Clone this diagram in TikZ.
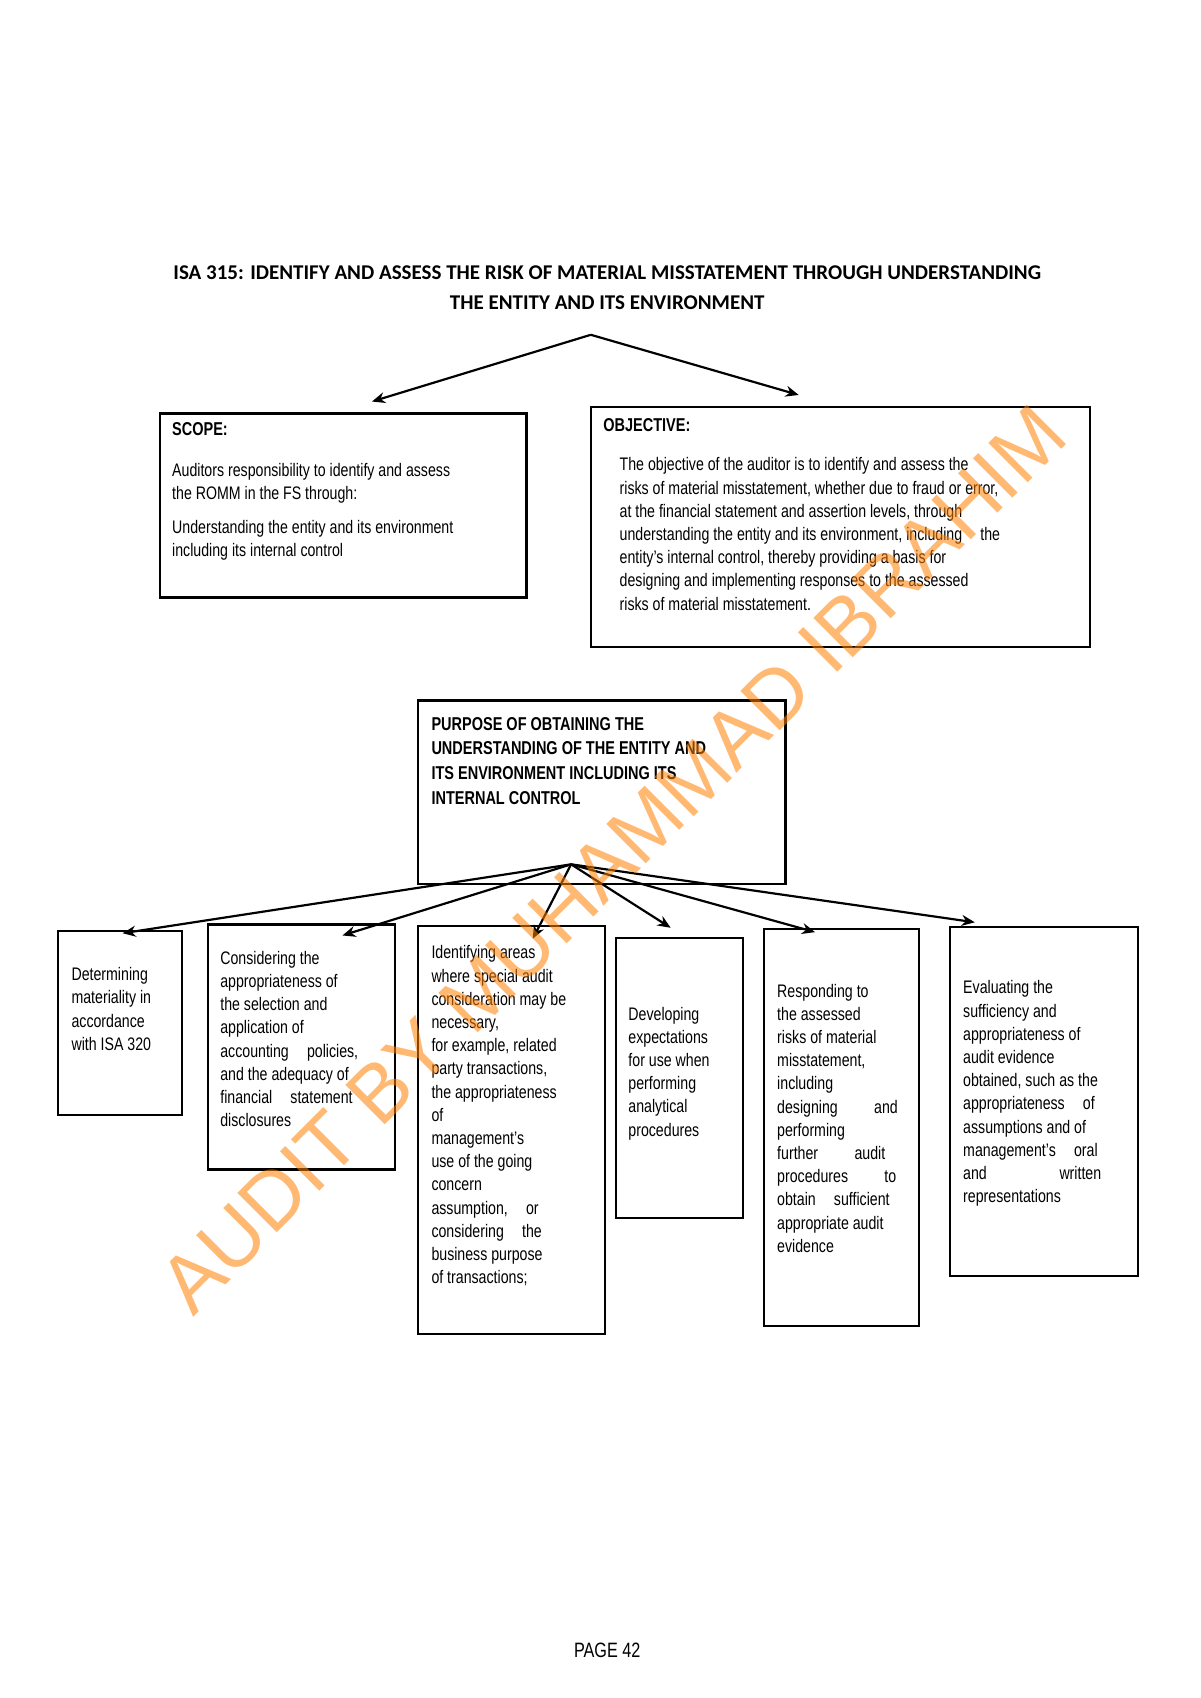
\documentclass[tikz,border=0pt]{standalone}
\usepackage{fontspec}
\setmainfont{Liberation Sans}[FakeStretch=0.78]
\newfontfamily\titlefont{Carlito}[Scale=1.0]
\newfontfamily\wmfont{Liberation Sans}
\usetikzlibrary{arrows.meta}
\tikzset{
 frame/.style={draw,line width=1.1pt,anchor=north west,inner sep=0},
 txt/.style={anchor=north west,align=left,inner sep=0,font=\fontsize{8.3}{10.6}\selectfont},
 arr/.style={line width=1pt,-{Stealth[length=6pt,width=5pt]}}
}
\newcommand{\bx}[5]{\node[frame,minimum width=#3*0.5pt-0.5pt,minimum height=#4*0.5pt-0.5pt] (#5) at (#1,#2) {};}
\begin{document}
\begin{tikzpicture}[x=0.5pt,y=-0.5pt]
\useasboundingbox (0,0) rectangle (1097,1552);
\node[font=\titlefont\bfseries\fontsize{9.6}{13.5}\selectfont,align=center] (title) at (555,263) {ISA 315: IDENTIFY AND ASSESS THE RISK OF MATERIAL MISSTATEMENT THROUGH UNDERSTANDING\\THE ENTITY AND ITS ENVIRONMENT};
\coordinate (apex) at (540,306);
\bx{145}{377}{336}{169}{scope}
\bx{539}{371}{457}{220}{obj}
\coordinate (ts) at (340,367);
\coordinate (to) at (730,361);
\draw[arr] (apex) -- (ts);
\draw[arr] (apex) -- (to);
\node[txt,font=\bfseries\fontsize{8.5}{10}\selectfont] (st) at (157,386) {SCOPE:};
\node[txt] (sb) at (157,423) {Auditors responsibility to identify and assess\\the ROMM in the FS through:\\[5pt]Understanding the entity and its environment\\including its internal control};
\node[txt,font=\bfseries\fontsize{8.5}{10}\selectfont] (ot) at (551,382) {OBJECTIVE:};
\node[txt] (ob) at (566,418) {The objective of the auditor is to identify and assess the\\risks of material misstatement, whether due to fraud or error,\\at the financial statement and assertion levels, through\\understanding the entity and its environment, including\quad the\\entity's internal control, thereby providing a basis for\\designing and implementing responses to the assessed\\risks of material misstatement.};
\bx{381}{639}{337}{169}{purp}
\node[txt,font=\bfseries\fontsize{8.5}{11.3}\selectfont] (pt) at (394,655) {PURPOSE OF OBTAINING THE\\UNDERSTANDING OF THE ENTITY AND\\ITS ENVIRONMENT INCLUDING ITS\\INTERNAL CONTROL};
\coordinate (hub) at (522,790);
\bx{52}{850}{114}{169}{b1}
\bx{189}{844}{172}{225}{b2}
\bx{381}{845}{172}{374}{b3}
\bx{562}{856}{117}{257}{b4}
\bx{697}{848}{143}{364}{b5}
\bx{867}{846}{173}{320}{b6}
\coordinate (e1) at (112,853);
\coordinate (e2) at (313,855);
\coordinate (e3) at (487,858);
\coordinate (e4) at (613,848);
\coordinate (e5) at (745,852);
\coordinate (e6) at (891,843);
\foreach \e in {e1,e2,e3,e4,e5,e6} \draw[arr] (hub) -- (\e);
\node[txt] (t1) at (65,884) {Determining\\materiality in\\accordance\\with ISA 320};
\node[txt] (t2) at (201,869) {Considering the\\appropriateness of\\the selection and\\application of\\accounting\quad policies,\\and the adequacy of\\financial\quad statement\\disclosures};
\node[txt] (t3) at (394,864) {Identifying areas\\where special audit\\consideration may be\\necessary,\\for example, related\\party transactions,\\the appropriateness\\of\\management's\\use of the going\\concern\\assumption,\quad or\\considering\quad the\\business purpose\\of transactions;};
\node[txt] (t4) at (574,920) {Developing\\expectations\\for use when\\performing\\analytical\\procedures};
\node[txt] (t5) at (710,899) {Responding to\\the assessed\\risks of material\\misstatement,\\including\\designing\qquad and\\performing\\further\qquad audit\\procedures\qquad to\\obtain\quad sufficient\\appropriate audit\\evidence};
\node[txt] (t6) at (880,896) {Evaluating the\\sufficiency and\\appropriateness of\\audit evidence\\obtained, such as the\\appropriateness\quad of\\assumptions and of\\management's\quad oral\\and\qquad\qquad written\\representations};
\node[font=\fontsize{9.5}{11}\selectfont] (page) at (555,1508) {PAGE 42};
\node[rotate=45,text=orange,opacity=0.55,font=\wmfont\fontsize{37}{40}\selectfont] (wm) at (560,785) {AUDIT BY MUHAMMAD IBRAHIM};
\end{tikzpicture}
\end{document}
